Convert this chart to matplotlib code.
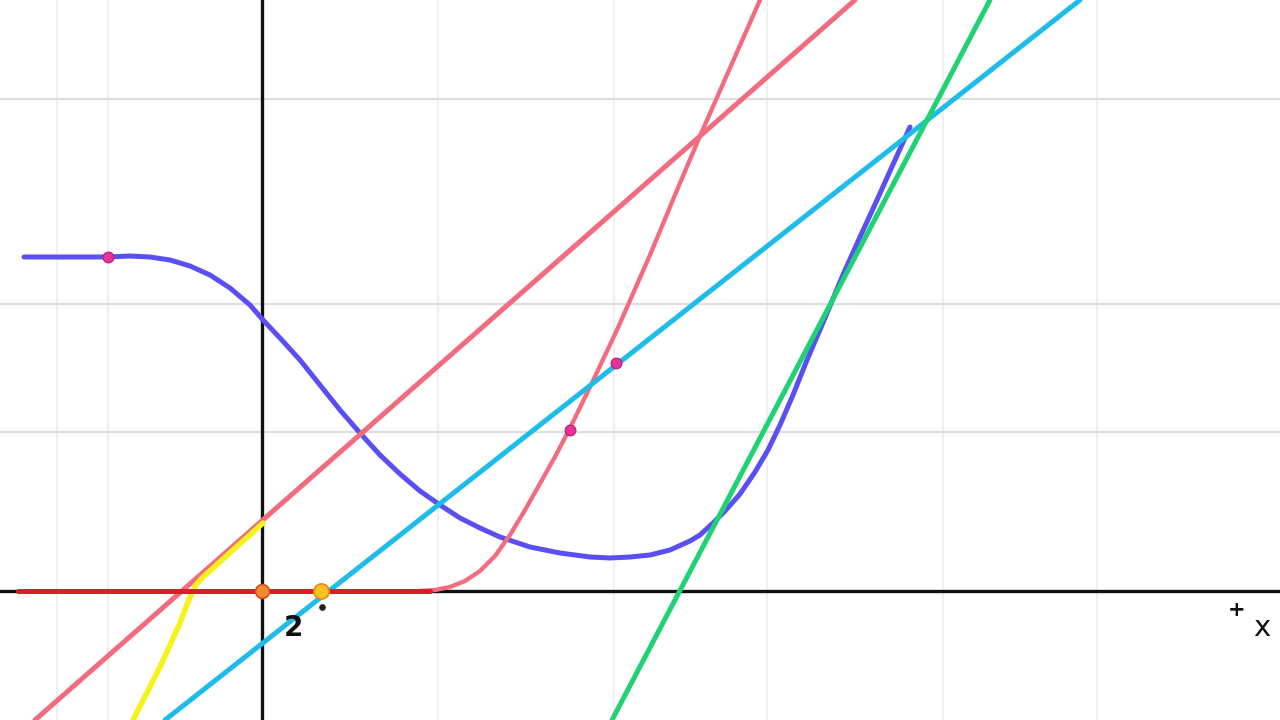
import matplotlib
matplotlib.use("Agg")
import matplotlib.pyplot as plt

# ---- data (in graph units) ----
blue_x = [-2.38, -1.54, -1.32, -1.12, -0.92, -0.72, -0.52, -0.32, -0.12, 0.01, 0.18, 0.38,
          0.58, 0.78, 0.98, 1.18, 1.38, 1.58, 1.78, 1.98, 2.18, 2.38, 2.68, 2.98, 3.28, 3.48,
          3.68, 3.88, 4.08, 4.28, 4.38, 4.51, 4.63, 4.78, 4.93, 5.06, 5.18, 5.31, 5.45, 5.63,
          5.80, 5.98, 6.15, 6.33, 6.48]
blue_y = [3.34, 3.34, 3.35, 3.34, 3.31, 3.25, 3.16, 3.03, 2.86, 2.71, 2.53, 2.31,
          2.06, 1.81, 1.58, 1.36, 1.17, 1.00, 0.86, 0.73, 0.63, 0.54, 0.44, 0.38, 0.34, 0.33,
          0.34, 0.36, 0.41, 0.50, 0.56, 0.68, 0.80, 0.97, 1.19, 1.41, 1.66, 1.96, 2.31, 2.73,
          3.14, 3.54, 3.91, 4.31, 4.64]

steep_x = [1.58, 1.73, 1.88, 2.03, 2.18, 2.33, 2.48, 2.63, 2.80, 2.94, 3.08, 3.28, 3.55,
           3.88, 4.18, 4.38, 4.68, 4.98]
steep_y = [0.00, 0.01, 0.04, 0.10, 0.20, 0.35, 0.56, 0.81, 1.11, 1.36, 1.63, 2.04, 2.61,
           3.36, 4.08, 4.55, 5.23, 5.91]

yellow_x = [-1.29, -1.02, -0.82, -0.72, -0.66, -0.59, -0.50, -0.29, 0.01]
yellow_y = [-1.29, -0.76, -0.32, -0.06, 0.06, 0.14, 0.22, 0.41, 0.68]

pink_line_x = [-2.27, 5.93]
pink_line_y = [-1.29, 5.91]
cyan_line_x = [-0.97, 8.18]
cyan_line_y = [-1.29, 5.91]
green_line_x = [3.50, 7.28]
green_line_y = [-1.29, 5.91]
red_x = [-2.44, 1.68]
red_y = [0.0, 0.0]

magenta_pts_x = [-1.54, 3.08, 3.54]
magenta_pts_y = [3.34, 1.61, 2.28]
orange_pt = (0.0, 0.0)
yellow_pt = (0.59, 0.0)
black_pt = (0.60, -0.16)

grid_v = [-2.05, -1.54, 1.76, 3.52, 5.05, 6.81, 8.35]
grid_h = [4.92, 2.87, 1.59]

XLIM = (-2.62, 10.18)
YLIM = (-1.29, 5.91)

fig = plt.figure(figsize=(12.8, 7.2), dpi=100)
ax = fig.add_axes([0, 0, 1, 1])
ax.set_xlim(*XLIM)
ax.set_ylim(*YLIM)
ax.axis("off")

for gx in grid_v:
    ax.axvline(gx, color="#f0f0f0", lw=1.5, zorder=0)
for gy in grid_h:
    ax.axhline(gy, color="#dedede", lw=1.6, zorder=0)

ax.axvline(0, color="#111111", lw=2.4, zorder=1)
ax.axhline(0, color="#111111", lw=2.4, zorder=1)

style = dict(solid_joinstyle="round", solid_capstyle="round")
lw = 3.6
ax.plot(blue_x, blue_y, color="#5a4ff2", lw=lw, zorder=3, **style)
ax.plot(pink_line_x, pink_line_y, color="#f26b7f", lw=lw, zorder=4, **style)
ax.plot(steep_x, steep_y, color="#f26b7f", lw=3.1, zorder=4, **style)
ax.plot(cyan_line_x, cyan_line_y, color="#1dbcea", lw=lw, zorder=4, **style)
ax.plot(green_line_x, green_line_y, color="#1fd274", lw=lw, zorder=4, **style)
ax.plot(yellow_x, yellow_y, color="#f6f21c", lw=4.0, zorder=5, **style)
ax.plot(red_x, red_y, color="#d81f26", lw=3.6, zorder=5, **style)

ax.scatter(magenta_pts_x, magenta_pts_y, s=60, color="#e2339a", edgecolor="#c01870",
           linewidth=0.8, zorder=6)
ax.scatter([orange_pt[0]], [orange_pt[1]], s=100, color="#f28a32", edgecolor="#d84a20",
           linewidth=1.2, zorder=7)
ax.scatter([yellow_pt[0]], [yellow_pt[1]], s=120, color="#f6c21e", edgecolor="#e08a1a",
           linewidth=1.2, zorder=7)
ax.scatter([black_pt[0]], [black_pt[1]], s=14, color="#222222", zorder=7)

ax.text(0.31, -0.37, "2", fontsize=20, fontweight="bold", color="#111111",
        ha="center", va="center", zorder=8)
ax.text(9.75, -0.19, "+", fontsize=15, fontweight="bold", color="#111111",
        ha="center", va="center", zorder=8)
ax.text(10.0, -0.37, "x", fontsize=21, color="#111111", ha="center", va="center", zorder=8)

fig.savefig("out.png", dpi=100)
